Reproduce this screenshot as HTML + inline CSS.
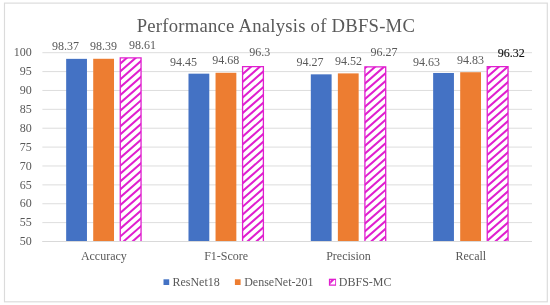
<!DOCTYPE html>
<html><head><meta charset="utf-8"><title>Performance Analysis of DBFS-MC</title>
<style>html,body{margin:0;padding:0;background:#fff}svg{display:block}text{font-family:"Liberation Serif","Times New Roman",serif;fill:#595959}</style></head><body>
<svg width="550" height="305" viewBox="0 0 550 305">
<rect width="550" height="305" fill="#fff"/>
<rect x="4.5" y="3.1" width="542.8" height="298.7" fill="#fff" stroke="#DBDBDB" stroke-width="1.15"/>
<line x1="42.40" x2="532.00" y1="52.70" y2="52.70" stroke="#D9D9D9" stroke-width="0.9"/>
<text x="31.8" y="56.40" font-size="12" text-anchor="end">100</text>
<line x1="42.40" x2="532.00" y1="71.58" y2="71.58" stroke="#D9D9D9" stroke-width="0.9"/>
<text x="31.8" y="75.28" font-size="12" text-anchor="end">95</text>
<line x1="42.40" x2="532.00" y1="90.46" y2="90.46" stroke="#D9D9D9" stroke-width="0.9"/>
<text x="31.8" y="94.16" font-size="12" text-anchor="end">90</text>
<line x1="42.40" x2="532.00" y1="109.34" y2="109.34" stroke="#D9D9D9" stroke-width="0.9"/>
<text x="31.8" y="113.04" font-size="12" text-anchor="end">85</text>
<line x1="42.40" x2="532.00" y1="128.22" y2="128.22" stroke="#D9D9D9" stroke-width="0.9"/>
<text x="31.8" y="131.92" font-size="12" text-anchor="end">80</text>
<line x1="42.40" x2="532.00" y1="147.10" y2="147.10" stroke="#D9D9D9" stroke-width="0.9"/>
<text x="31.8" y="150.80" font-size="12" text-anchor="end">75</text>
<line x1="42.40" x2="532.00" y1="165.98" y2="165.98" stroke="#D9D9D9" stroke-width="0.9"/>
<text x="31.8" y="169.68" font-size="12" text-anchor="end">70</text>
<line x1="42.40" x2="532.00" y1="184.86" y2="184.86" stroke="#D9D9D9" stroke-width="0.9"/>
<text x="31.8" y="188.56" font-size="12" text-anchor="end">65</text>
<line x1="42.40" x2="532.00" y1="203.74" y2="203.74" stroke="#D9D9D9" stroke-width="0.9"/>
<text x="31.8" y="207.44" font-size="12" text-anchor="end">60</text>
<line x1="42.40" x2="532.00" y1="222.62" y2="222.62" stroke="#D9D9D9" stroke-width="0.9"/>
<text x="31.8" y="226.32" font-size="12" text-anchor="end">55</text>
<line x1="42.40" x2="532.00" y1="241.50" y2="241.50" stroke="#D9D9D9" stroke-width="0.9"/>
<text x="31.8" y="245.20" font-size="12" text-anchor="end">50</text>
<rect x="66.16" y="58.85" width="20.80" height="182.65" fill="#4472C4"/>
<rect x="93.21" y="58.78" width="20.80" height="182.72" fill="#ED7D31"/>
<clipPath id="c0"><rect x="120.26" y="57.95" width="20.80" height="183.55"/></clipPath>
<rect x="120.26" y="57.95" width="20.80" height="183.55" fill="#fff"/>
<path d="M117.26,42.66 L144.06,19.08M117.26,50.52 L144.06,26.94M117.26,58.38 L144.06,34.80M117.26,66.24 L144.06,42.66M117.26,74.10 L144.06,50.52M117.26,81.96 L144.06,58.38M117.26,89.82 L144.06,66.24M117.26,97.68 L144.06,74.10M117.26,105.54 L144.06,81.96M117.26,113.40 L144.06,89.82M117.26,121.26 L144.06,97.68M117.26,129.12 L144.06,105.54M117.26,136.98 L144.06,113.40M117.26,144.84 L144.06,121.26M117.26,152.70 L144.06,129.12M117.26,160.56 L144.06,136.98M117.26,168.42 L144.06,144.84M117.26,176.28 L144.06,152.70M117.26,184.14 L144.06,160.56M117.26,192.00 L144.06,168.42M117.26,199.86 L144.06,176.28M117.26,207.72 L144.06,184.14M117.26,215.58 L144.06,192.00M117.26,223.44 L144.06,199.86M117.26,231.30 L144.06,207.72M117.26,239.16 L144.06,215.58M117.26,247.02 L144.06,223.44M117.26,254.88 L144.06,231.30M117.26,262.74 L144.06,239.16M117.26,270.60 L144.06,247.02M117.26,278.46 L144.06,254.88M117.26,286.32 L144.06,262.74M117.26,294.18 L144.06,270.60M117.26,302.04 L144.06,278.46" stroke="#E01FCF" stroke-width="2.05" fill="none" clip-path="url(#c0)"/>
<path d="M120.26,241.50 V57.95 H141.06 V241.50" fill="none" stroke="#E01FCF" stroke-width="1.3"/>
<text x="103.86" y="259.7" font-size="12" text-anchor="middle">Accuracy</text>
<text x="65.40" y="50.10" font-size="12" text-anchor="middle">98.37</text>
<text x="103.45" y="50.10" font-size="12" text-anchor="middle">98.39</text>
<text x="142.60" y="48.70" font-size="12" text-anchor="middle">98.61</text>
<rect x="188.49" y="73.66" width="20.80" height="167.84" fill="#4472C4"/>
<rect x="215.54" y="72.79" width="20.80" height="168.71" fill="#ED7D31"/>
<clipPath id="c1"><rect x="242.59" y="66.67" width="20.80" height="174.83"/></clipPath>
<rect x="242.59" y="66.67" width="20.80" height="174.83" fill="#fff"/>
<path d="M239.59,45.58 L266.39,21.99M239.59,53.38 L266.39,29.79M239.59,61.18 L266.39,37.59M239.59,68.98 L266.39,45.39M239.59,76.78 L266.39,53.19M239.59,84.58 L266.39,60.99M239.59,92.38 L266.39,68.79M239.59,100.18 L266.39,76.59M239.59,107.98 L266.39,84.39M239.59,115.78 L266.39,92.19M239.59,123.58 L266.39,99.99M239.59,131.38 L266.39,107.79M239.59,139.18 L266.39,115.59M239.59,146.98 L266.39,123.40M239.59,154.78 L266.39,131.19M239.59,162.58 L266.39,138.99M239.59,170.38 L266.39,146.79M239.59,178.18 L266.39,154.59M239.59,185.98 L266.39,162.40M239.59,193.78 L266.39,170.19M239.59,201.58 L266.39,177.99M239.59,209.38 L266.39,185.79M239.59,217.18 L266.39,193.59M239.59,224.98 L266.39,201.39M239.59,232.78 L266.39,209.19M239.59,240.58 L266.39,216.99M239.59,248.38 L266.39,224.79M239.59,256.18 L266.39,232.59M239.59,263.98 L266.39,240.39M239.59,271.78 L266.39,248.20M239.59,279.58 L266.39,255.99M239.59,287.38 L266.39,263.79M239.59,295.18 L266.39,271.60M239.59,302.98 L266.39,279.39" stroke="#E01FCF" stroke-width="2.05" fill="none" clip-path="url(#c1)"/>
<path d="M242.59,241.50 V66.67 H263.39 V241.50" fill="none" stroke="#E01FCF" stroke-width="1.3"/>
<text x="226.19" y="259.7" font-size="12" text-anchor="middle">F1-Score</text>
<text x="183.50" y="66.00" font-size="12" text-anchor="middle">94.45</text>
<text x="225.85" y="63.80" font-size="12" text-anchor="middle">94.68</text>
<text x="259.70" y="56.30" font-size="12" text-anchor="middle">96.3</text>
<rect x="310.81" y="74.34" width="20.80" height="167.16" fill="#4472C4"/>
<rect x="337.86" y="73.39" width="20.80" height="168.11" fill="#ED7D31"/>
<clipPath id="c2"><rect x="364.91" y="66.78" width="20.80" height="174.72"/></clipPath>
<rect x="364.91" y="66.78" width="20.80" height="174.72" fill="#fff"/>
<path d="M361.91,47.33 L388.71,23.74M361.91,55.11 L388.71,31.52M361.91,62.89 L388.71,39.30M361.91,70.67 L388.71,47.08M361.91,78.45 L388.71,54.86M361.91,86.23 L388.71,62.64M361.91,94.01 L388.71,70.42M361.91,101.79 L388.71,78.20M361.91,109.57 L388.71,85.98M361.91,117.35 L388.71,93.76M361.91,125.13 L388.71,101.54M361.91,132.91 L388.71,109.32M361.91,140.69 L388.71,117.10M361.91,148.47 L388.71,124.88M361.91,156.25 L388.71,132.66M361.91,164.03 L388.71,140.44M361.91,171.81 L388.71,148.22M361.91,179.59 L388.71,156.00M361.91,187.37 L388.71,163.78M361.91,195.15 L388.71,171.56M361.91,202.93 L388.71,179.34M361.91,210.71 L388.71,187.12M361.91,218.49 L388.71,194.90M361.91,226.27 L388.71,202.68M361.91,234.05 L388.71,210.46M361.91,241.83 L388.71,218.24M361.91,249.61 L388.71,226.02M361.91,257.39 L388.71,233.80M361.91,265.17 L388.71,241.58M361.91,272.95 L388.71,249.36M361.91,280.73 L388.71,257.14M361.91,288.51 L388.71,264.92M361.91,296.29 L388.71,272.70M361.91,304.07 L388.71,280.48" stroke="#E01FCF" stroke-width="2.05" fill="none" clip-path="url(#c2)"/>
<path d="M364.91,241.50 V66.78 H385.71 V241.50" fill="none" stroke="#E01FCF" stroke-width="1.3"/>
<text x="348.51" y="259.7" font-size="12" text-anchor="middle">Precision</text>
<text x="310.10" y="65.70" font-size="12" text-anchor="middle">94.27</text>
<text x="348.40" y="64.50" font-size="12" text-anchor="middle">94.52</text>
<text x="383.90" y="56.30" font-size="12" text-anchor="middle">96.27</text>
<rect x="433.14" y="72.98" width="20.80" height="168.52" fill="#4472C4"/>
<rect x="460.19" y="72.22" width="20.80" height="169.28" fill="#ED7D31"/>
<clipPath id="c3"><rect x="487.24" y="66.60" width="20.80" height="174.90"/></clipPath>
<rect x="487.24" y="66.60" width="20.80" height="174.90" fill="#fff"/>
<path d="M484.24,48.41 L511.04,24.83M484.24,56.21 L511.04,32.63M484.24,64.01 L511.04,40.43M484.24,71.81 L511.04,48.23M484.24,79.61 L511.04,56.03M484.24,87.41 L511.04,63.83M484.24,95.21 L511.04,71.63M484.24,103.01 L511.04,79.43M484.24,110.81 L511.04,87.23M484.24,118.61 L511.04,95.03M484.24,126.41 L511.04,102.83M484.24,134.21 L511.04,110.63M484.24,142.01 L511.04,118.43M484.24,149.81 L511.04,126.23M484.24,157.61 L511.04,134.03M484.24,165.41 L511.04,141.83M484.24,173.21 L511.04,149.63M484.24,181.01 L511.04,157.43M484.24,188.81 L511.04,165.23M484.24,196.61 L511.04,173.03M484.24,204.41 L511.04,180.83M484.24,212.21 L511.04,188.63M484.24,220.01 L511.04,196.43M484.24,227.81 L511.04,204.23M484.24,235.61 L511.04,212.03M484.24,243.41 L511.04,219.83M484.24,251.21 L511.04,227.63M484.24,259.01 L511.04,235.43M484.24,266.81 L511.04,243.23M484.24,274.61 L511.04,251.03M484.24,282.41 L511.04,258.83M484.24,290.21 L511.04,266.63M484.24,298.01 L511.04,274.43M484.24,305.81 L511.04,282.23" stroke="#E01FCF" stroke-width="2.05" fill="none" clip-path="url(#c3)"/>
<path d="M487.24,241.50 V66.60 H508.04 V241.50" fill="none" stroke="#E01FCF" stroke-width="1.3"/>
<text x="470.84" y="259.7" font-size="12" text-anchor="middle">Recall</text>
<text x="426.55" y="65.70" font-size="12" text-anchor="middle">94.63</text>
<text x="470.40" y="63.80" font-size="12" text-anchor="middle">94.83</text>
<text x="511.35" y="56.60" font-size="12" text-anchor="middle" style="fill:#111;stroke:#111;stroke-width:0.15">96.32</text>
<line x1="42.40" x2="532.00" y1="241.50" y2="241.50" stroke="#D9D9D9" stroke-width="1"/>
<text x="275.9" y="31.9" font-size="18.67" text-anchor="middle" letter-spacing="0.24">Performance Analysis of DBFS-MC</text>
<rect x="163.5" y="279.3" width="5.7" height="5.7" fill="#4472C4"/>
<text x="172.4" y="286.4" font-size="12">ResNet18</text>
<rect x="234.9" y="279.3" width="5.7" height="5.7" fill="#ED7D31"/>
<text x="244.2" y="286.4" font-size="12">DenseNet-201</text>
<clipPath id="lc"><rect x="330.2" y="280" width="5.0" height="4.5"/></clipPath>
<rect x="328.9" y="278.7" width="7.15" height="7.05" fill="#E01FCF"/>
<rect x="330.2" y="280" width="5.0" height="4.5" fill="#fff"/>
<path d="M326.1,286.7 L337.1,275.7" stroke="#E01FCF" stroke-width="2.1" clip-path="url(#lc)"/>
<text x="338.8" y="286.4" font-size="12">DBFS-MC</text>
</svg></body></html>
